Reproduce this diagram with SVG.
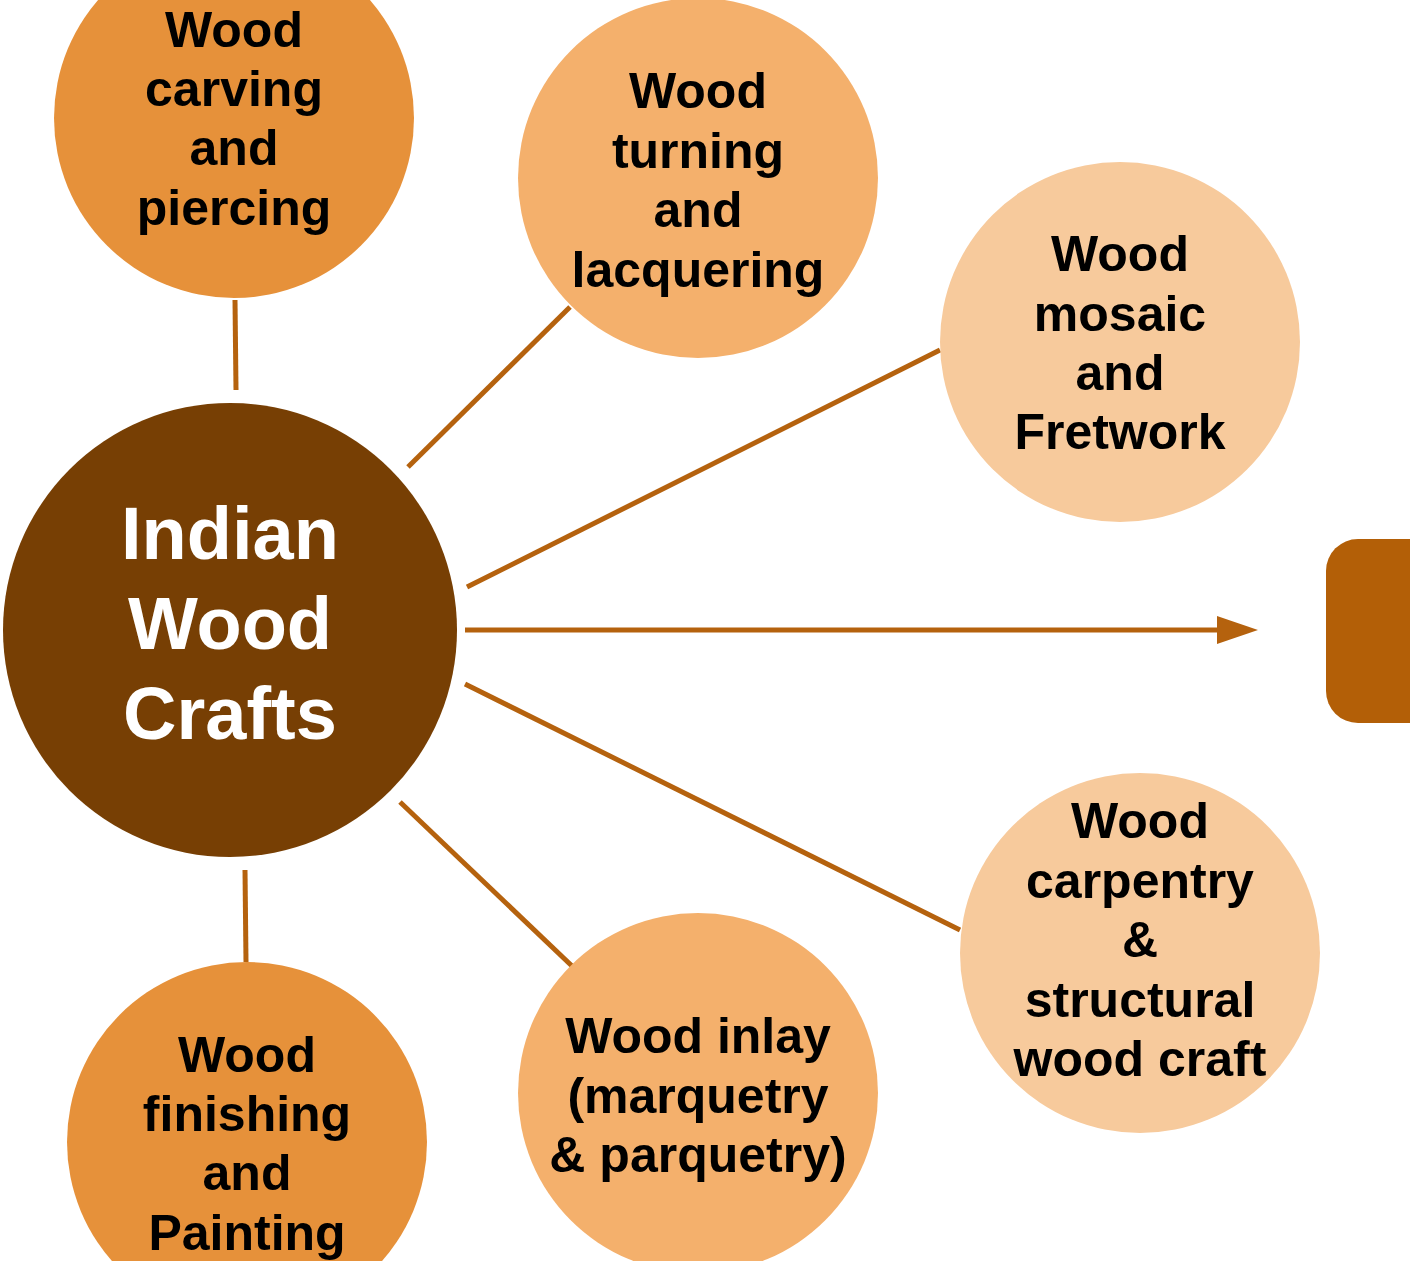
<svg xmlns="http://www.w3.org/2000/svg" width="1410" height="1261" viewBox="0 0 1410 1261">
<style>
.t{font-family:"Liberation Sans",Arial,sans-serif;font-weight:bold;font-size:50px;fill:#000;text-anchor:middle}
.c{font-family:"Liberation Sans",Arial,sans-serif;font-weight:bold;font-size:74px;fill:#fff;text-anchor:middle}
.ln{stroke:#B5620E;stroke-width:5;fill:none}
.d{fill:#E6913A}.m{fill:#F4B06C}.l{fill:#F7CA9C}
</style>
<g id="connectors">
<line class="ln" x1="235" y1="300" x2="236" y2="390"/>
<line class="ln" x1="408" y1="467" x2="570" y2="307"/>
<line class="ln" x1="467" y1="587" x2="940" y2="350"/>
<line class="ln" x1="465" y1="630" x2="1220" y2="630"/>
<path d="M1217,616 L1258,630 L1217,644 Z" fill="#B5620E"/>
<line class="ln" x1="465" y1="684" x2="960" y2="930"/>
<line class="ln" x1="400" y1="802" x2="572" y2="966"/>
<line class="ln" x1="245" y1="870" x2="246" y2="962"/>
</g>
<g id="side-box"><rect x="1326" y="539" width="120" height="184" rx="32" fill="#B35F07"/></g>
<g id="center"><circle cx="230" cy="630" r="227" fill="#773F04"/>
<text class="c" x="230" y="559">Indian</text><text class="c" x="230" y="649">Wood</text><text class="c" x="230" y="739">Crafts</text></g>
<g id="carving"><circle class="d" cx="234" cy="118" r="180"/>
<text class="t" x="234" y="47">Wood</text><text class="t" x="234" y="106">carving</text><text class="t" x="234" y="165">and</text><text class="t" x="234" y="225">piercing</text></g>
<g id="turning"><circle class="m" cx="698" cy="178" r="180"/>
<text class="t" x="698" y="108">Wood</text><text class="t" x="698" y="168">turning</text><text class="t" x="698" y="227">and</text><text class="t" x="698" y="287">lacquering</text></g>
<g id="mosaic"><circle class="l" cx="1120" cy="342" r="180"/>
<text class="t" x="1120" y="271">Wood</text><text class="t" x="1120" y="331">mosaic</text><text class="t" x="1120" y="390">and</text><text class="t" x="1120" y="449">Fretwork</text></g>
<g id="carpentry"><circle class="l" cx="1140" cy="953" r="180"/>
<text class="t" x="1140" y="838">Wood</text><text class="t" x="1140" y="898">carpentry</text><text class="t" x="1140" y="957">&amp;</text><text class="t" x="1140" y="1017">structural</text><text class="t" x="1140" y="1076">wood craft</text></g>
<g id="inlay"><circle class="m" cx="698" cy="1093" r="180"/>
<text class="t" x="698" y="1053">Wood inlay</text><text class="t" x="698" y="1113">(marquetry</text><text class="t" x="698" y="1172">&amp; parquetry)</text></g>
<g id="finishing"><circle class="d" cx="247" cy="1142" r="180"/>
<text class="t" x="247" y="1072">Wood</text><text class="t" x="247" y="1131">finishing</text><text class="t" x="247" y="1190">and</text><text class="t" x="247" y="1250">Painting</text></g>
</svg>
